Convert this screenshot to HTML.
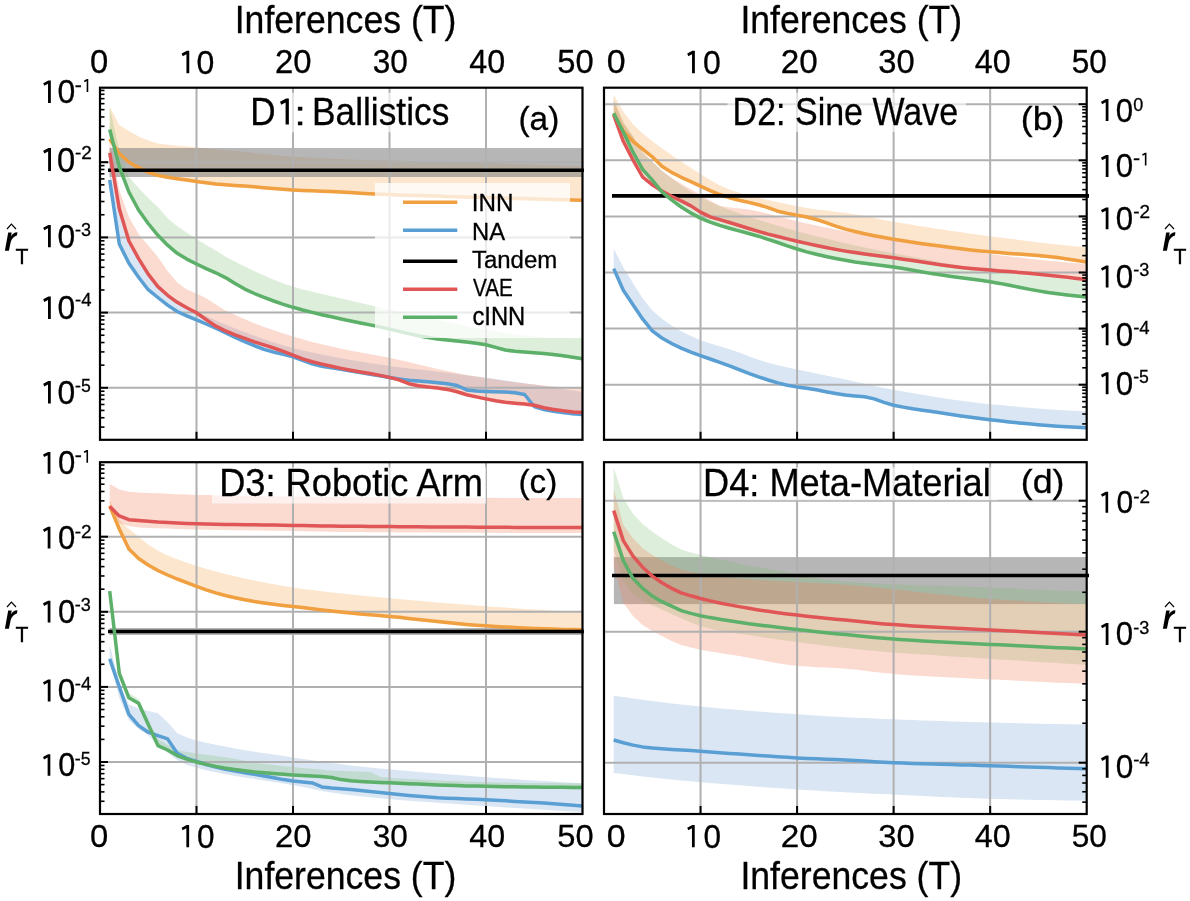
<!DOCTYPE html><html><head><meta charset="utf-8"><style>html,body{margin:0;padding:0;background:#fff;overflow:hidden}svg{display:block;will-change:transform}text{font-family:"Liberation Sans",sans-serif}</style></head><body><svg width="1190" height="901" viewBox="0 0 1190 901" font-family="'Liberation Sans', sans-serif"><rect x="0" y="0" width="1190" height="901" fill="#fff"/>
<clipPath id="clipa"><rect x="100" y="87.7" width="482.5" height="352.1"/></clipPath>
<g clip-path="url(#clipa)">
<polygon points="109.7,107.0 119.3,125.0 128.9,131.0 138.6,136.5 148.2,140.4 157.9,143.5 167.6,144.8 177.2,145.8 186.8,146.5 196.5,147.4 206.2,148.3 215.8,149.2 225.4,150.0 235.1,150.9 244.8,151.8 254.4,152.9 264.1,153.9 273.7,155.0 283.4,155.9 293.0,156.6 302.6,157.2 312.3,157.8 321.9,158.2 331.6,158.7 341.2,159.0 350.9,159.4 360.6,159.7 370.2,160.0 379.9,160.2 389.5,160.5 399.1,160.7 408.8,160.9 418.4,161.2 428.1,161.4 437.8,161.7 447.4,161.9 457.1,162.2 466.7,162.5 476.4,162.8 486.0,163.0 495.6,163.3 505.3,163.6 515.0,163.9 524.6,164.2 534.2,164.5 543.9,164.8 553.5,165.1 563.2,165.4 572.9,165.7 582.5,166.0 582.5,202.0 572.9,201.7 563.2,201.5 553.5,201.2 543.9,201.0 534.2,200.7 524.6,200.4 515.0,200.2 505.3,199.9 495.6,199.6 486.0,199.4 476.4,199.1 466.7,198.8 457.1,198.5 447.4,198.2 437.8,197.9 428.1,197.6 418.4,197.4 408.8,197.1 399.1,196.7 389.5,196.4 379.9,196.0 370.2,195.6 360.6,195.0 350.9,194.4 341.2,193.9 331.6,193.4 321.9,193.0 312.3,192.6 302.6,192.2 293.0,191.7 283.4,191.1 273.7,190.3 264.1,189.5 254.4,188.6 244.8,187.9 235.1,187.2 225.4,186.6 215.8,185.8 206.2,184.6 196.5,183.2 186.8,181.8 177.2,180.5 167.6,179.1 157.9,177.2 148.2,174.1 138.6,169.4 128.9,164.0 119.3,155.4 109.7,140.8" fill="rgb(243,155,55)" fill-opacity="0.25"/>
<polygon points="109.7,170.0 119.3,212.0 128.9,243.0 138.6,260.0 148.2,275.0 157.9,287.0 167.6,294.2 177.2,300.0 186.8,305.9 196.5,311.2 206.2,315.9 215.8,320.4 225.4,324.6 235.1,328.5 244.8,332.2 254.4,335.8 264.1,339.2 273.7,342.4 283.4,345.4 293.0,348.0 302.6,350.4 312.3,352.6 321.9,354.6 331.6,356.4 341.2,358.2 350.9,360.0 360.6,361.6 370.2,363.2 379.9,364.6 389.5,366.0 399.1,367.3 408.8,368.4 418.4,369.5 428.1,370.6 437.8,371.7 447.4,372.8 457.1,374.0 466.7,375.2 476.4,376.5 486.0,377.8 495.6,379.1 505.3,380.4 515.0,381.8 524.6,383.2 534.2,384.6 543.9,386.0 553.5,387.5 563.2,389.0 572.9,390.5 582.5,392.0 582.5,416.2 572.9,415.6 563.2,414.4 553.5,413.0 543.9,411.3 534.2,408.3 524.6,396.3 515.0,394.5 505.3,393.8 495.6,393.5 486.0,393.2 476.4,392.7 466.7,391.7 457.1,387.3 447.4,385.6 437.8,384.5 428.1,383.6 418.4,382.9 408.8,382.0 399.1,380.8 389.5,379.2 379.9,377.6 370.2,376.0 360.6,374.4 350.9,372.8 341.2,371.1 331.6,369.6 321.9,368.0 312.3,365.7 302.6,362.1 293.0,358.6 283.4,356.1 273.7,353.9 264.1,351.2 254.4,347.5 244.8,343.4 235.1,339.1 225.4,334.5 215.8,330.0 206.2,325.8 196.5,321.6 186.8,317.7 177.2,313.3 167.6,306.9 157.9,299.3 148.2,291.5 138.6,279.1 128.9,265.1 119.3,245.8 109.7,181.8" fill="rgb(107,155,207)" fill-opacity="0.25"/>
<rect x="109.5" y="148" width="473.0" height="29" fill="rgb(131,131,131)" fill-opacity="0.59"/>
<polygon points="109.7,107.0 119.3,150.0 128.9,177.0 138.6,188.0 148.2,198.0 157.9,207.0 167.6,218.2 177.2,226.3 186.8,232.8 196.5,238.9 206.2,244.9 215.8,250.6 225.4,256.4 235.1,261.7 244.8,266.6 254.4,271.2 264.1,275.6 273.7,279.7 283.4,283.4 293.0,286.6 302.6,289.4 312.3,291.8 321.9,294.0 331.6,296.2 341.2,298.4 350.9,300.8 360.6,303.1 370.2,305.3 379.9,307.3 389.5,309.3 399.1,311.4 408.8,313.5 418.4,315.6 428.1,317.7 437.8,319.9 447.4,322.0 457.1,324.0 466.7,326.0 476.4,327.9 486.0,329.7 495.6,331.3 505.3,332.9 515.0,334.2 524.6,335.4 534.2,336.4 543.9,337.2 553.5,337.8 563.2,338.1 572.9,338.2 582.5,337.8 582.5,360.6 572.9,359.0 563.2,357.6 553.5,356.4 543.9,355.3 534.2,354.5 524.6,353.9 515.0,353.1 505.3,351.8 495.6,349.2 486.0,346.6 476.4,345.0 466.7,343.9 457.1,342.9 447.4,341.9 437.8,340.7 428.1,339.3 418.4,337.5 408.8,335.4 399.1,333.2 389.5,330.9 379.9,328.7 370.2,326.7 360.6,324.8 350.9,322.8 341.2,320.8 331.6,318.6 321.9,316.5 312.3,314.2 302.6,311.8 293.0,309.1 283.4,306.1 273.7,302.8 264.1,299.2 254.4,295.3 244.8,290.9 235.1,285.4 225.4,279.4 215.8,274.6 206.2,270.4 196.5,265.8 186.8,260.9 177.2,255.1 167.6,247.0 157.9,237.1 148.2,225.3 138.6,211.8 128.9,193.8 119.3,168.6 109.7,131.3" fill="rgb(119,187,107)" fill-opacity="0.25"/>
<polygon points="109.7,140.0 119.3,190.0 128.9,217.0 138.6,234.0 148.2,245.5 157.9,257.0 167.6,271.1 177.2,282.4 186.8,289.4 196.5,293.6 206.2,298.2 215.8,304.6 225.4,310.4 235.1,315.1 244.8,319.3 254.4,323.3 264.1,326.9 273.7,330.3 283.4,333.5 293.0,336.5 302.6,339.3 312.3,341.9 321.9,344.3 331.6,346.6 341.2,348.8 350.9,350.7 360.6,352.5 370.2,354.2 379.9,356.0 389.5,357.8 399.1,359.9 408.8,362.1 418.4,364.4 428.1,366.7 437.8,368.9 447.4,371.1 457.1,373.1 466.7,374.9 476.4,376.5 486.0,378.1 495.6,379.6 505.3,381.0 515.0,382.3 524.6,383.4 534.2,384.5 543.9,385.5 553.5,386.4 563.2,387.3 572.9,388.0 582.5,388.7 582.5,414.2 572.9,413.7 563.2,412.6 553.5,411.2 543.9,409.6 534.2,407.1 524.6,405.9 515.0,405.0 505.3,404.0 495.6,402.5 486.0,400.7 476.4,398.7 466.7,396.5 457.1,393.6 447.4,391.2 437.8,389.8 428.1,388.8 418.4,387.6 408.8,385.5 399.1,381.7 389.5,379.2 379.9,377.2 370.2,375.4 360.6,373.8 350.9,372.1 341.2,370.2 331.6,368.1 321.9,365.9 312.3,363.5 302.6,360.7 293.0,357.0 283.4,353.2 273.7,349.8 264.1,346.7 254.4,343.6 244.8,340.2 235.1,336.6 225.4,332.6 215.8,328.0 206.2,321.4 196.5,314.5 186.8,309.6 177.2,304.1 167.6,297.1 157.9,288.4 148.2,276.0 138.6,260.4 128.9,242.8 119.3,210.6 109.7,154.7" fill="rgb(242,132,98)" fill-opacity="0.3"/>
</g>
<line x1="196.50" y1="87.7" x2="196.50" y2="439.8" stroke="#b0b0b0" stroke-width="2"/>
<line x1="293.00" y1="87.7" x2="293.00" y2="439.8" stroke="#b0b0b0" stroke-width="2"/>
<line x1="389.50" y1="87.7" x2="389.50" y2="439.8" stroke="#b0b0b0" stroke-width="2"/>
<line x1="486.00" y1="87.7" x2="486.00" y2="439.8" stroke="#b0b0b0" stroke-width="2"/>
<line x1="100" y1="162.20" x2="582.5" y2="162.20" stroke="#b0b0b0" stroke-width="2"/>
<line x1="100" y1="237.40" x2="582.5" y2="237.40" stroke="#b0b0b0" stroke-width="2"/>
<line x1="100" y1="312.60" x2="582.5" y2="312.60" stroke="#b0b0b0" stroke-width="2"/>
<line x1="100" y1="387.80" x2="582.5" y2="387.80" stroke="#b0b0b0" stroke-width="2"/>
<rect x="248" y="92.7" width="207" height="39.60000000000001" fill="#fff" fill-opacity="0.62"/>
<g clip-path="url(#clipa)">
<polyline points="109.7,139.0 119.3,153.6 128.9,162.2 138.6,167.6 148.2,172.3 157.9,175.4 167.6,177.3 177.2,178.7 186.8,180.0 196.5,181.4 206.2,182.8 215.8,184.0 225.4,184.8 235.1,185.4 244.8,186.1 254.4,186.8 264.1,187.7 273.7,188.5 283.4,189.3 293.0,189.9 302.6,190.4 312.3,190.8 321.9,191.2 331.6,191.6 341.2,192.1 350.9,192.6 360.6,193.2 370.2,193.8 379.9,194.2 389.5,194.6 399.1,194.9 408.8,195.3 418.4,195.6 428.1,195.8 437.8,196.1 447.4,196.4 457.1,196.7 466.7,197.0 476.4,197.3 486.0,197.6 495.6,197.8 505.3,198.1 515.0,198.4 524.6,198.6 534.2,198.9 543.9,199.2 553.5,199.4 563.2,199.7 572.9,199.9 582.5,200.2" fill="none" stroke="#f0a040" stroke-width="3.5" stroke-linejoin="round" stroke-linecap="butt"/>
<polyline points="109.7,180.0 119.3,244.0 128.9,263.3 138.6,277.3 148.2,289.7 157.9,297.5 167.6,305.1 177.2,311.5 186.8,315.9 196.5,319.8 206.2,324.0 215.8,328.2 225.4,332.7 235.1,337.3 244.8,341.6 254.4,345.7 264.1,349.4 273.7,352.1 283.4,354.3 293.0,356.8 302.6,360.3 312.3,363.9 321.9,366.2 331.6,367.8 341.2,369.3 350.9,371.0 360.6,372.6 370.2,374.2 379.9,375.8 389.5,377.4 399.1,379.0 408.8,380.2 418.4,381.1 428.1,381.8 437.8,382.7 447.4,383.8 457.1,385.5 466.7,389.9 476.4,390.9 486.0,391.4 495.6,391.7 505.3,392.0 515.0,392.7 524.6,394.5 534.2,406.5 543.9,409.5 553.5,411.2 563.2,412.6 572.9,413.8 582.5,414.4" fill="none" stroke="#5a9fd4" stroke-width="3.5" stroke-linejoin="round" stroke-linecap="butt"/>
</g>
<line x1="108" y1="170.3" x2="584" y2="170.3" stroke="#000" stroke-width="3.6"/>
<g clip-path="url(#clipa)">
<polyline points="109.7,152.9 119.3,208.8 128.9,241.0 138.6,258.6 148.2,274.2 157.9,286.6 167.6,295.3 177.2,302.3 186.8,307.8 196.5,312.7 206.2,319.6 215.8,326.2 225.4,330.8 235.1,334.8 244.8,338.4 254.4,341.8 264.1,344.9 273.7,348.0 283.4,351.4 293.0,355.2 302.6,358.9 312.3,361.7 321.9,364.1 331.6,366.3 341.2,368.4 350.9,370.3 360.6,372.0 370.2,373.6 379.9,375.4 389.5,377.4 399.1,379.9 408.8,383.7 418.4,385.8 428.1,387.0 437.8,388.0 447.4,389.4 457.1,391.8 466.7,394.7 476.4,396.9 486.0,398.9 495.6,400.7 505.3,402.2 515.0,403.2 524.6,404.1 534.2,405.3 543.9,407.8 553.5,409.4 563.2,410.8 572.9,411.9 582.5,412.4" fill="none" stroke="#e05555" stroke-width="3.5" stroke-linejoin="round" stroke-linecap="butt"/>
<polyline points="109.7,129.5 119.3,166.8 128.9,192.0 138.6,210.0 148.2,223.5 157.9,235.3 167.6,245.2 177.2,253.3 186.8,259.1 196.5,264.0 206.2,268.6 215.8,272.8 225.4,277.6 235.1,283.6 244.8,289.1 254.4,293.5 264.1,297.4 273.7,301.0 283.4,304.3 293.0,307.3 302.6,310.0 312.3,312.4 321.9,314.7 331.6,316.8 341.2,319.0 350.9,321.0 360.6,323.0 370.2,324.9 379.9,326.9 389.5,329.1 399.1,331.4 408.8,333.6 418.4,335.7 428.1,337.5 437.8,338.9 447.4,340.1 457.1,341.1 466.7,342.1 476.4,343.2 486.0,344.8 495.6,347.4 505.3,350.0 515.0,351.3 524.6,352.1 534.2,352.7 543.9,353.5 553.5,354.6 563.2,355.8 572.9,357.2 582.5,358.8" fill="none" stroke="#5db06a" stroke-width="3.5" stroke-linejoin="round" stroke-linecap="butt"/>
</g>
<line x1="196.50" y1="439.80" x2="196.50" y2="431.80" stroke="#000" stroke-width="2"/>
<line x1="293.00" y1="439.80" x2="293.00" y2="431.80" stroke="#000" stroke-width="2"/>
<line x1="389.50" y1="439.80" x2="389.50" y2="431.80" stroke="#000" stroke-width="2"/>
<line x1="486.00" y1="439.80" x2="486.00" y2="431.80" stroke="#000" stroke-width="2"/>
<line x1="100.00" y1="139.56" x2="104.50" y2="139.56" stroke="#000" stroke-width="1.6"/>
<line x1="100.00" y1="126.32" x2="104.50" y2="126.32" stroke="#000" stroke-width="1.6"/>
<line x1="100.00" y1="116.93" x2="104.50" y2="116.93" stroke="#000" stroke-width="1.6"/>
<line x1="100.00" y1="109.64" x2="104.50" y2="109.64" stroke="#000" stroke-width="1.6"/>
<line x1="100.00" y1="103.68" x2="104.50" y2="103.68" stroke="#000" stroke-width="1.6"/>
<line x1="100.00" y1="98.65" x2="104.50" y2="98.65" stroke="#000" stroke-width="1.6"/>
<line x1="100.00" y1="94.29" x2="104.50" y2="94.29" stroke="#000" stroke-width="1.6"/>
<line x1="100.00" y1="90.44" x2="104.50" y2="90.44" stroke="#000" stroke-width="1.6"/>
<line x1="100.00" y1="162.20" x2="108.00" y2="162.20" stroke="#000" stroke-width="2"/>
<line x1="100.00" y1="214.76" x2="104.50" y2="214.76" stroke="#000" stroke-width="1.6"/>
<line x1="100.00" y1="201.52" x2="104.50" y2="201.52" stroke="#000" stroke-width="1.6"/>
<line x1="100.00" y1="192.13" x2="104.50" y2="192.13" stroke="#000" stroke-width="1.6"/>
<line x1="100.00" y1="184.84" x2="104.50" y2="184.84" stroke="#000" stroke-width="1.6"/>
<line x1="100.00" y1="178.88" x2="104.50" y2="178.88" stroke="#000" stroke-width="1.6"/>
<line x1="100.00" y1="173.85" x2="104.50" y2="173.85" stroke="#000" stroke-width="1.6"/>
<line x1="100.00" y1="169.49" x2="104.50" y2="169.49" stroke="#000" stroke-width="1.6"/>
<line x1="100.00" y1="165.64" x2="104.50" y2="165.64" stroke="#000" stroke-width="1.6"/>
<line x1="100.00" y1="237.40" x2="108.00" y2="237.40" stroke="#000" stroke-width="2"/>
<line x1="100.00" y1="289.96" x2="104.50" y2="289.96" stroke="#000" stroke-width="1.6"/>
<line x1="100.00" y1="276.72" x2="104.50" y2="276.72" stroke="#000" stroke-width="1.6"/>
<line x1="100.00" y1="267.33" x2="104.50" y2="267.33" stroke="#000" stroke-width="1.6"/>
<line x1="100.00" y1="260.04" x2="104.50" y2="260.04" stroke="#000" stroke-width="1.6"/>
<line x1="100.00" y1="254.08" x2="104.50" y2="254.08" stroke="#000" stroke-width="1.6"/>
<line x1="100.00" y1="249.05" x2="104.50" y2="249.05" stroke="#000" stroke-width="1.6"/>
<line x1="100.00" y1="244.69" x2="104.50" y2="244.69" stroke="#000" stroke-width="1.6"/>
<line x1="100.00" y1="240.84" x2="104.50" y2="240.84" stroke="#000" stroke-width="1.6"/>
<line x1="100.00" y1="312.60" x2="108.00" y2="312.60" stroke="#000" stroke-width="2"/>
<line x1="100.00" y1="365.16" x2="104.50" y2="365.16" stroke="#000" stroke-width="1.6"/>
<line x1="100.00" y1="351.92" x2="104.50" y2="351.92" stroke="#000" stroke-width="1.6"/>
<line x1="100.00" y1="342.53" x2="104.50" y2="342.53" stroke="#000" stroke-width="1.6"/>
<line x1="100.00" y1="335.24" x2="104.50" y2="335.24" stroke="#000" stroke-width="1.6"/>
<line x1="100.00" y1="329.28" x2="104.50" y2="329.28" stroke="#000" stroke-width="1.6"/>
<line x1="100.00" y1="324.25" x2="104.50" y2="324.25" stroke="#000" stroke-width="1.6"/>
<line x1="100.00" y1="319.89" x2="104.50" y2="319.89" stroke="#000" stroke-width="1.6"/>
<line x1="100.00" y1="316.04" x2="104.50" y2="316.04" stroke="#000" stroke-width="1.6"/>
<line x1="100.00" y1="387.80" x2="108.00" y2="387.80" stroke="#000" stroke-width="2"/>
<line x1="100.00" y1="427.12" x2="104.50" y2="427.12" stroke="#000" stroke-width="1.6"/>
<line x1="100.00" y1="417.73" x2="104.50" y2="417.73" stroke="#000" stroke-width="1.6"/>
<line x1="100.00" y1="410.44" x2="104.50" y2="410.44" stroke="#000" stroke-width="1.6"/>
<line x1="100.00" y1="404.48" x2="104.50" y2="404.48" stroke="#000" stroke-width="1.6"/>
<line x1="100.00" y1="399.45" x2="104.50" y2="399.45" stroke="#000" stroke-width="1.6"/>
<line x1="100.00" y1="395.09" x2="104.50" y2="395.09" stroke="#000" stroke-width="1.6"/>
<line x1="100.00" y1="391.24" x2="104.50" y2="391.24" stroke="#000" stroke-width="1.6"/>
<rect x="100" y="87.7" width="482.5" height="352.1" fill="none" stroke="#000" stroke-width="2.2"/>
<clipPath id="clipb"><rect x="604" y="87.7" width="482.70000000000005" height="352.1"/></clipPath>
<g clip-path="url(#clipb)">
<polygon points="613.7,94.7 623.3,111.8 633.0,124.2 642.6,133.5 652.3,141.3 661.9,148.3 671.6,155.0 681.2,161.6 690.9,168.0 700.5,174.0 710.2,180.0 719.8,185.5 729.5,189.6 739.2,192.8 748.8,195.5 758.5,197.8 768.1,200.1 777.8,202.2 787.4,204.3 797.1,206.2 806.7,207.9 816.4,209.4 826.0,210.6 835.7,211.8 845.4,213.1 855.0,214.6 864.7,216.3 874.3,218.1 884.0,219.9 893.6,221.7 903.3,223.3 912.9,224.9 922.6,226.4 932.2,227.9 941.9,229.4 951.5,230.9 961.2,232.3 970.9,233.7 980.5,235.0 990.2,236.3 999.8,237.6 1009.5,238.8 1019.1,240.0 1028.8,241.2 1038.4,242.4 1048.1,243.5 1057.7,244.6 1067.4,245.6 1077.0,246.6 1086.7,247.6 1086.7,263.8 1077.0,262.2 1067.4,260.7 1057.7,259.4 1048.1,258.3 1038.4,257.4 1028.8,256.6 1019.1,255.9 1009.5,255.2 999.8,254.4 990.2,253.6 980.5,252.7 970.9,251.7 961.2,250.5 951.5,249.4 941.9,248.1 932.2,246.8 922.6,245.5 912.9,244.1 903.3,242.6 893.6,241.0 884.0,239.3 874.3,237.5 864.7,235.5 855.0,233.3 845.4,230.9 835.7,227.9 826.0,224.5 816.4,221.3 806.7,218.8 797.1,216.9 787.4,215.2 777.8,213.0 768.1,209.4 758.5,206.5 748.8,204.2 739.2,202.0 729.5,199.5 719.8,196.3 710.2,192.4 700.5,188.0 690.9,183.5 681.2,179.1 671.6,174.2 661.9,168.0 652.3,158.6 642.6,150.9 633.0,143.1 623.3,133.0 613.7,115.1" fill="rgb(243,155,55)" fill-opacity="0.25"/>
<polygon points="613.7,248.8 623.3,267.3 633.0,283.3 642.6,298.2 652.3,310.4 661.9,318.7 671.6,325.5 681.2,331.3 690.9,336.1 700.5,340.2 710.2,343.5 719.8,346.2 729.5,349.2 739.2,352.6 748.8,356.3 758.5,359.8 768.1,362.8 777.8,365.3 787.4,367.5 797.1,369.5 806.7,371.5 816.4,373.6 826.0,375.6 835.7,377.6 845.4,379.6 855.0,381.7 864.7,383.8 874.3,385.9 884.0,387.9 893.6,389.7 903.3,391.5 912.9,393.2 922.6,394.8 932.2,396.4 941.9,398.0 951.5,399.4 961.2,400.8 970.9,402.0 980.5,403.2 990.2,404.2 999.8,405.1 1009.5,406.1 1019.1,406.9 1028.8,407.8 1038.4,408.5 1048.1,409.2 1057.7,409.9 1067.4,410.4 1077.0,410.9 1086.7,411.3 1086.7,429.6 1077.0,429.1 1067.4,428.6 1057.7,428.0 1048.1,427.3 1038.4,426.5 1028.8,425.6 1019.1,424.7 1009.5,423.7 999.8,422.6 990.2,421.5 980.5,420.4 970.9,419.1 961.2,417.7 951.5,416.3 941.9,414.8 932.2,413.4 922.6,412.0 912.9,410.6 903.3,408.9 893.6,407.0 884.0,404.2 874.3,400.7 864.7,398.6 855.0,397.8 845.4,396.9 835.7,395.3 826.0,393.5 816.4,391.6 806.7,390.0 797.1,388.7 787.4,387.0 777.8,384.7 768.1,381.8 758.5,378.6 748.8,375.2 739.2,371.5 729.5,367.6 719.8,364.1 710.2,360.8 700.5,357.4 690.9,353.9 681.2,349.9 671.6,345.3 661.9,339.8 652.3,332.7 642.6,320.7 633.0,306.5 623.3,292.0 613.7,270.4" fill="rgb(107,155,207)" fill-opacity="0.25"/>
<polygon points="613.7,100.0 623.3,122.6 633.0,136.6 642.6,152.2 652.3,161.5 661.9,170.8 671.6,178.4 681.2,185.4 690.9,191.7 700.5,197.3 710.2,202.0 719.8,206.2 729.5,210.1 739.2,213.5 748.8,216.8 758.5,219.8 768.1,222.8 777.8,225.7 787.4,228.5 797.1,231.2 806.7,233.7 816.4,236.2 826.0,238.6 835.7,240.9 845.4,243.2 855.0,245.4 864.7,247.4 874.3,249.5 884.0,251.4 893.6,253.3 903.3,255.1 912.9,257.0 922.6,258.8 932.2,260.6 941.9,262.4 951.5,264.1 961.2,265.7 970.9,267.3 980.5,268.8 990.2,270.1 999.8,271.4 1009.5,272.7 1019.1,273.9 1028.8,275.1 1038.4,276.3 1048.1,277.3 1057.7,278.3 1067.4,279.3 1077.0,280.2 1086.7,281.0 1086.7,298.9 1077.0,297.9 1067.4,296.8 1057.7,295.6 1048.1,294.3 1038.4,292.7 1028.8,290.9 1019.1,289.0 1009.5,287.1 999.8,285.2 990.2,283.6 980.5,282.1 970.9,280.8 961.2,279.5 951.5,278.2 941.9,276.8 932.2,275.4 922.6,273.7 912.9,272.1 903.3,270.4 893.6,268.9 884.0,267.5 874.3,266.3 864.7,265.0 855.0,263.7 845.4,262.1 835.7,260.3 826.0,258.3 816.4,256.1 806.7,253.7 797.1,250.8 787.4,247.7 777.8,244.3 768.1,241.1 758.5,238.0 748.8,235.3 739.2,232.7 729.5,230.0 719.8,227.2 710.2,224.0 700.5,219.9 690.9,214.9 681.2,208.8 671.6,201.7 661.9,193.6 652.3,182.0 642.6,171.1 633.0,154.0 623.3,133.8 613.7,115.1" fill="rgb(119,187,107)" fill-opacity="0.25"/>
<polygon points="613.7,100.0 623.3,122.6 633.0,136.6 642.6,152.2 652.3,161.5 661.9,170.8 671.6,177.8 681.2,183.8 690.9,189.3 700.5,194.8 710.2,200.8 719.8,205.7 729.5,207.6 739.2,208.5 748.8,209.6 758.5,211.4 768.1,213.7 777.8,216.2 787.4,218.8 797.1,221.2 806.7,223.4 816.4,225.5 826.0,227.6 835.7,229.6 845.4,231.5 855.0,233.1 864.7,234.8 874.3,236.4 884.0,238.0 893.6,239.6 903.3,241.2 912.9,242.7 922.6,244.2 932.2,245.7 941.9,247.2 951.5,248.6 961.2,250.0 970.9,251.4 980.5,252.7 990.2,254.0 999.8,255.2 1009.5,256.4 1019.1,257.6 1028.8,258.7 1038.4,259.7 1048.1,260.7 1057.7,261.6 1067.4,262.5 1077.0,263.3 1086.7,264.0 1086.7,281.4 1077.0,280.2 1067.4,279.1 1057.7,278.0 1048.1,277.0 1038.4,276.0 1028.8,275.1 1019.1,274.2 1009.5,273.4 999.8,272.7 990.2,271.9 980.5,271.1 970.9,270.2 961.2,269.2 951.5,268.0 941.9,266.7 932.2,265.3 922.6,263.8 912.9,262.4 903.3,261.0 893.6,259.6 884.0,258.3 874.3,257.1 864.7,255.8 855.0,254.4 845.4,252.9 835.7,251.2 826.0,249.3 816.4,247.3 806.7,245.2 797.1,243.0 787.4,240.7 777.8,238.3 768.1,235.9 758.5,233.2 748.8,230.3 739.2,227.3 729.5,224.3 719.8,221.4 710.2,218.7 700.5,213.9 690.9,207.7 681.2,202.7 671.6,198.0 661.9,192.8 652.3,186.6 642.6,178.8 633.0,161.8 623.3,143.1 613.7,116.7" fill="rgb(242,132,98)" fill-opacity="0.3"/>
</g>
<line x1="700.54" y1="87.7" x2="700.54" y2="439.8" stroke="#b0b0b0" stroke-width="2"/>
<line x1="797.08" y1="87.7" x2="797.08" y2="439.8" stroke="#b0b0b0" stroke-width="2"/>
<line x1="893.62" y1="87.7" x2="893.62" y2="439.8" stroke="#b0b0b0" stroke-width="2"/>
<line x1="990.16" y1="87.7" x2="990.16" y2="439.8" stroke="#b0b0b0" stroke-width="2"/>
<line x1="604" y1="104.20" x2="1086.7" y2="104.20" stroke="#b0b0b0" stroke-width="2"/>
<line x1="604" y1="160.30" x2="1086.7" y2="160.30" stroke="#b0b0b0" stroke-width="2"/>
<line x1="604" y1="216.40" x2="1086.7" y2="216.40" stroke="#b0b0b0" stroke-width="2"/>
<line x1="604" y1="272.50" x2="1086.7" y2="272.50" stroke="#b0b0b0" stroke-width="2"/>
<line x1="604" y1="328.60" x2="1086.7" y2="328.60" stroke="#b0b0b0" stroke-width="2"/>
<line x1="604" y1="384.70" x2="1086.7" y2="384.70" stroke="#b0b0b0" stroke-width="2"/>
<rect x="727.5" y="92.7" width="238.5" height="39.3" fill="#fff" fill-opacity="0.62"/>
<g clip-path="url(#clipb)">
<polyline points="613.7,113.3 623.3,131.2 633.0,141.3 642.6,149.1 652.3,156.8 661.9,166.2 671.6,172.4 681.2,177.3 690.9,181.7 700.5,186.2 710.2,190.6 719.8,194.5 729.5,197.7 739.2,200.2 748.8,202.4 758.5,204.7 768.1,207.6 777.8,211.2 787.4,213.4 797.1,215.1 806.7,217.0 816.4,219.5 826.0,222.7 835.7,226.1 845.4,229.1 855.0,231.5 864.7,233.7 874.3,235.7 884.0,237.5 893.6,239.2 903.3,240.8 912.9,242.3 922.6,243.7 932.2,245.0 941.9,246.3 951.5,247.6 961.2,248.7 970.9,249.9 980.5,250.9 990.2,251.8 999.8,252.6 1009.5,253.4 1019.1,254.1 1028.8,254.8 1038.4,255.6 1048.1,256.5 1057.7,257.6 1067.4,258.9 1077.0,260.4 1086.7,262.0" fill="none" stroke="#f0a040" stroke-width="3.5" stroke-linejoin="round" stroke-linecap="butt"/>
<polyline points="613.7,268.6 623.3,290.2 633.0,304.7 642.6,318.9 652.3,330.9 661.9,338.0 671.6,343.5 681.2,348.1 690.9,352.1 700.5,355.6 710.2,359.0 719.8,362.3 729.5,365.8 739.2,369.7 748.8,373.4 758.5,376.8 768.1,380.0 777.8,382.9 787.4,385.2 797.1,386.9 806.7,388.2 816.4,389.8 826.0,391.7 835.7,393.5 845.4,395.1 855.0,396.0 864.7,396.8 874.3,398.9 884.0,402.4 893.6,405.2 903.3,407.1 912.9,408.8 922.6,410.2 932.2,411.6 941.9,413.0 951.5,414.5 961.2,415.9 970.9,417.3 980.5,418.6 990.2,419.7 999.8,420.8 1009.5,421.9 1019.1,422.9 1028.8,423.8 1038.4,424.7 1048.1,425.5 1057.7,426.2 1067.4,426.8 1077.0,427.3 1086.7,427.8" fill="none" stroke="#5a9fd4" stroke-width="3.5" stroke-linejoin="round" stroke-linecap="butt"/>
</g>
<line x1="612" y1="195.9" x2="1089" y2="195.9" stroke="#000" stroke-width="3.6"/>
<g clip-path="url(#clipb)">
<polyline points="613.7,114.9 623.3,141.3 633.0,160.0 642.6,177.0 652.3,184.8 661.9,191.0 671.6,196.2 681.2,200.9 690.9,205.9 700.5,212.1 710.2,216.9 719.8,219.6 729.5,222.5 739.2,225.5 748.8,228.5 758.5,231.4 768.1,234.1 777.8,236.5 787.4,238.9 797.1,241.2 806.7,243.4 816.4,245.5 826.0,247.5 835.7,249.4 845.4,251.1 855.0,252.6 864.7,254.0 874.3,255.3 884.0,256.5 893.6,257.8 903.3,259.2 912.9,260.6 922.6,262.0 932.2,263.5 941.9,264.9 951.5,266.2 961.2,267.4 970.9,268.4 980.5,269.3 990.2,270.1 999.8,270.9 1009.5,271.6 1019.1,272.4 1028.8,273.3 1038.4,274.2 1048.1,275.2 1057.7,276.2 1067.4,277.3 1077.0,278.4 1086.7,279.6" fill="none" stroke="#e05555" stroke-width="3.5" stroke-linejoin="round" stroke-linecap="butt"/>
<polyline points="613.7,113.3 623.3,132.0 633.0,152.2 642.6,169.3 652.3,180.2 661.9,191.8 671.6,199.9 681.2,207.0 690.9,213.1 700.5,218.1 710.2,222.2 719.8,225.4 729.5,228.2 739.2,230.9 748.8,233.5 758.5,236.2 768.1,239.3 777.8,242.5 787.4,245.9 797.1,249.0 806.7,251.9 816.4,254.3 826.0,256.5 835.7,258.5 845.4,260.3 855.0,261.9 864.7,263.2 874.3,264.5 884.0,265.7 893.6,267.1 903.3,268.6 912.9,270.3 922.6,271.9 932.2,273.6 941.9,275.0 951.5,276.4 961.2,277.7 970.9,279.0 980.5,280.3 990.2,281.8 999.8,283.4 1009.5,285.3 1019.1,287.2 1028.8,289.1 1038.4,290.9 1048.1,292.5 1057.7,293.8 1067.4,295.0 1077.0,296.1 1086.7,297.1" fill="none" stroke="#5db06a" stroke-width="3.5" stroke-linejoin="round" stroke-linecap="butt"/>
</g>
<line x1="700.54" y1="439.80" x2="700.54" y2="431.80" stroke="#000" stroke-width="2"/>
<line x1="797.08" y1="439.80" x2="797.08" y2="431.80" stroke="#000" stroke-width="2"/>
<line x1="893.62" y1="439.80" x2="893.62" y2="431.80" stroke="#000" stroke-width="2"/>
<line x1="990.16" y1="439.80" x2="990.16" y2="431.80" stroke="#000" stroke-width="2"/>
<line x1="1086.70" y1="104.20" x2="1078.70" y2="104.20" stroke="#000" stroke-width="2"/>
<line x1="1086.70" y1="143.41" x2="1082.20" y2="143.41" stroke="#000" stroke-width="1.6"/>
<line x1="1086.70" y1="133.53" x2="1082.20" y2="133.53" stroke="#000" stroke-width="1.6"/>
<line x1="1086.70" y1="126.52" x2="1082.20" y2="126.52" stroke="#000" stroke-width="1.6"/>
<line x1="1086.70" y1="121.09" x2="1082.20" y2="121.09" stroke="#000" stroke-width="1.6"/>
<line x1="1086.70" y1="116.65" x2="1082.20" y2="116.65" stroke="#000" stroke-width="1.6"/>
<line x1="1086.70" y1="112.89" x2="1082.20" y2="112.89" stroke="#000" stroke-width="1.6"/>
<line x1="1086.70" y1="109.64" x2="1082.20" y2="109.64" stroke="#000" stroke-width="1.6"/>
<line x1="1086.70" y1="106.77" x2="1082.20" y2="106.77" stroke="#000" stroke-width="1.6"/>
<line x1="1086.70" y1="160.30" x2="1078.70" y2="160.30" stroke="#000" stroke-width="2"/>
<line x1="1086.70" y1="199.51" x2="1082.20" y2="199.51" stroke="#000" stroke-width="1.6"/>
<line x1="1086.70" y1="189.63" x2="1082.20" y2="189.63" stroke="#000" stroke-width="1.6"/>
<line x1="1086.70" y1="182.62" x2="1082.20" y2="182.62" stroke="#000" stroke-width="1.6"/>
<line x1="1086.70" y1="177.19" x2="1082.20" y2="177.19" stroke="#000" stroke-width="1.6"/>
<line x1="1086.70" y1="172.75" x2="1082.20" y2="172.75" stroke="#000" stroke-width="1.6"/>
<line x1="1086.70" y1="168.99" x2="1082.20" y2="168.99" stroke="#000" stroke-width="1.6"/>
<line x1="1086.70" y1="165.74" x2="1082.20" y2="165.74" stroke="#000" stroke-width="1.6"/>
<line x1="1086.70" y1="162.87" x2="1082.20" y2="162.87" stroke="#000" stroke-width="1.6"/>
<line x1="1086.70" y1="216.40" x2="1078.70" y2="216.40" stroke="#000" stroke-width="2"/>
<line x1="1086.70" y1="255.61" x2="1082.20" y2="255.61" stroke="#000" stroke-width="1.6"/>
<line x1="1086.70" y1="245.73" x2="1082.20" y2="245.73" stroke="#000" stroke-width="1.6"/>
<line x1="1086.70" y1="238.72" x2="1082.20" y2="238.72" stroke="#000" stroke-width="1.6"/>
<line x1="1086.70" y1="233.29" x2="1082.20" y2="233.29" stroke="#000" stroke-width="1.6"/>
<line x1="1086.70" y1="228.85" x2="1082.20" y2="228.85" stroke="#000" stroke-width="1.6"/>
<line x1="1086.70" y1="225.09" x2="1082.20" y2="225.09" stroke="#000" stroke-width="1.6"/>
<line x1="1086.70" y1="221.84" x2="1082.20" y2="221.84" stroke="#000" stroke-width="1.6"/>
<line x1="1086.70" y1="218.97" x2="1082.20" y2="218.97" stroke="#000" stroke-width="1.6"/>
<line x1="1086.70" y1="272.50" x2="1078.70" y2="272.50" stroke="#000" stroke-width="2"/>
<line x1="1086.70" y1="311.71" x2="1082.20" y2="311.71" stroke="#000" stroke-width="1.6"/>
<line x1="1086.70" y1="301.83" x2="1082.20" y2="301.83" stroke="#000" stroke-width="1.6"/>
<line x1="1086.70" y1="294.82" x2="1082.20" y2="294.82" stroke="#000" stroke-width="1.6"/>
<line x1="1086.70" y1="289.39" x2="1082.20" y2="289.39" stroke="#000" stroke-width="1.6"/>
<line x1="1086.70" y1="284.95" x2="1082.20" y2="284.95" stroke="#000" stroke-width="1.6"/>
<line x1="1086.70" y1="281.19" x2="1082.20" y2="281.19" stroke="#000" stroke-width="1.6"/>
<line x1="1086.70" y1="277.94" x2="1082.20" y2="277.94" stroke="#000" stroke-width="1.6"/>
<line x1="1086.70" y1="275.07" x2="1082.20" y2="275.07" stroke="#000" stroke-width="1.6"/>
<line x1="1086.70" y1="328.60" x2="1078.70" y2="328.60" stroke="#000" stroke-width="2"/>
<line x1="1086.70" y1="367.81" x2="1082.20" y2="367.81" stroke="#000" stroke-width="1.6"/>
<line x1="1086.70" y1="357.93" x2="1082.20" y2="357.93" stroke="#000" stroke-width="1.6"/>
<line x1="1086.70" y1="350.92" x2="1082.20" y2="350.92" stroke="#000" stroke-width="1.6"/>
<line x1="1086.70" y1="345.49" x2="1082.20" y2="345.49" stroke="#000" stroke-width="1.6"/>
<line x1="1086.70" y1="341.05" x2="1082.20" y2="341.05" stroke="#000" stroke-width="1.6"/>
<line x1="1086.70" y1="337.29" x2="1082.20" y2="337.29" stroke="#000" stroke-width="1.6"/>
<line x1="1086.70" y1="334.04" x2="1082.20" y2="334.04" stroke="#000" stroke-width="1.6"/>
<line x1="1086.70" y1="331.17" x2="1082.20" y2="331.17" stroke="#000" stroke-width="1.6"/>
<line x1="1086.70" y1="384.70" x2="1078.70" y2="384.70" stroke="#000" stroke-width="2"/>
<line x1="1086.70" y1="423.91" x2="1082.20" y2="423.91" stroke="#000" stroke-width="1.6"/>
<line x1="1086.70" y1="414.03" x2="1082.20" y2="414.03" stroke="#000" stroke-width="1.6"/>
<line x1="1086.70" y1="407.02" x2="1082.20" y2="407.02" stroke="#000" stroke-width="1.6"/>
<line x1="1086.70" y1="401.59" x2="1082.20" y2="401.59" stroke="#000" stroke-width="1.6"/>
<line x1="1086.70" y1="397.15" x2="1082.20" y2="397.15" stroke="#000" stroke-width="1.6"/>
<line x1="1086.70" y1="393.39" x2="1082.20" y2="393.39" stroke="#000" stroke-width="1.6"/>
<line x1="1086.70" y1="390.14" x2="1082.20" y2="390.14" stroke="#000" stroke-width="1.6"/>
<line x1="1086.70" y1="387.27" x2="1082.20" y2="387.27" stroke="#000" stroke-width="1.6"/>
<rect x="604" y="87.7" width="482.70000000000005" height="352.1" fill="none" stroke="#000" stroke-width="2.2"/>
<clipPath id="clipc"><rect x="100" y="462.2" width="482.5" height="351.8"/></clipPath>
<g clip-path="url(#clipc)">
<polygon points="109.7,500.0 119.3,520.0 128.9,529.0 138.6,536.8 148.2,544.6 157.9,550.8 167.6,555.4 177.2,559.3 186.8,562.8 196.5,565.9 206.2,568.8 215.8,571.5 225.4,574.0 235.1,576.3 244.8,578.4 254.4,580.5 264.1,582.5 273.7,584.3 283.4,586.0 293.0,587.5 302.6,588.9 312.3,590.1 321.9,591.3 331.6,592.4 341.2,593.4 350.9,594.4 360.6,595.4 370.2,596.4 379.9,597.3 389.5,598.2 399.1,599.1 408.8,600.0 418.4,600.8 428.1,601.7 437.8,602.5 447.4,603.3 457.1,604.0 466.7,604.8 476.4,605.5 486.0,606.2 495.6,606.9 505.3,607.6 515.0,608.3 524.6,608.9 534.2,609.5 543.9,610.1 553.5,610.7 563.2,611.2 572.9,611.8 582.5,612.3 582.5,631.6 572.9,631.4 563.2,631.2 553.5,630.9 543.9,630.6 534.2,630.2 524.6,629.7 515.0,629.2 505.3,628.7 495.6,628.2 486.0,627.6 476.4,627.0 466.7,626.2 457.1,625.4 447.4,624.4 437.8,623.4 428.1,622.3 418.4,621.2 408.8,620.2 399.1,619.1 389.5,618.2 379.9,617.4 370.2,616.5 360.6,615.7 350.9,614.9 341.2,613.9 331.6,612.9 321.9,611.7 312.3,610.6 302.6,609.4 293.0,608.3 283.4,607.2 273.7,606.1 264.1,604.8 254.4,603.3 244.8,601.5 235.1,599.5 225.4,597.3 215.8,594.7 206.2,591.6 196.5,588.1 186.8,584.5 177.2,580.8 167.6,576.8 157.9,572.3 148.2,566.8 138.6,560.3 128.9,550.8 119.3,530.8 109.7,507.6" fill="rgb(243,155,55)" fill-opacity="0.25"/>
<polygon points="109.7,644.4 119.3,683.8 128.9,704.4 138.6,708.5 148.2,711.0 157.9,713.3 167.6,722.2 177.2,733.3 186.8,737.5 196.5,740.6 206.2,742.8 215.8,744.7 225.4,746.6 235.1,748.5 244.8,750.2 254.4,751.7 264.1,753.2 273.7,754.6 283.4,756.0 293.0,757.4 302.6,758.9 312.3,760.3 321.9,761.7 331.6,763.0 341.2,764.3 350.9,765.4 360.6,766.4 370.2,767.4 379.9,768.4 389.5,769.3 399.1,770.2 408.8,771.1 418.4,771.9 428.1,772.8 437.8,773.6 447.4,774.3 457.1,775.1 466.7,775.8 476.4,776.5 486.0,777.2 495.6,777.9 505.3,778.6 515.0,779.2 524.6,779.9 534.2,780.5 543.9,781.1 553.5,781.6 563.2,782.2 572.9,782.7 582.5,783.2 582.5,812.1 572.9,811.6 563.2,811.0 553.5,810.4 543.9,809.8 534.2,809.2 524.6,808.6 515.0,808.0 505.3,807.4 495.6,806.7 486.0,806.0 476.4,805.4 466.7,804.7 457.1,804.1 447.4,803.4 437.8,802.7 428.1,802.1 418.4,801.4 408.8,800.7 399.1,799.9 389.5,799.1 379.9,798.2 370.2,797.3 360.6,796.3 350.9,795.3 341.2,794.1 331.6,792.6 321.9,790.9 312.3,789.0 302.6,787.1 293.0,785.2 283.4,783.5 273.7,782.0 264.1,780.5 254.4,779.0 244.8,777.5 235.1,776.0 225.4,774.3 215.8,772.3 206.2,770.2 196.5,767.7 186.8,764.8 177.2,760.0 167.6,752.8 157.9,744.2 148.2,735.6 138.6,728.9 128.9,720.0 119.3,697.8 109.7,662.0" fill="rgb(107,155,207)" fill-opacity="0.25"/>
<rect x="109.5" y="628" width="473.0" height="7" fill="rgb(131,131,131)" fill-opacity="0.59"/>
<polygon points="109.7,588.0 119.3,668.0 128.9,693.0 138.6,699.0 148.2,719.0 157.9,739.0 167.6,745.0 177.2,750.0 186.8,752.1 196.5,753.6 206.2,754.8 215.8,755.9 225.4,757.3 235.1,759.0 244.8,760.8 254.4,762.5 264.1,763.9 273.7,765.1 283.4,766.0 293.0,767.0 302.6,767.9 312.3,768.8 321.9,769.7 331.6,770.4 341.2,771.0 350.9,771.2 360.6,771.4 370.2,771.9 379.9,776.8 389.5,777.7 399.1,778.4 408.8,779.0 418.4,779.6 428.1,780.1 437.8,780.6 447.4,781.0 457.1,781.3 466.7,781.7 476.4,782.0 486.0,782.2 495.6,782.4 505.3,782.6 515.0,782.8 524.6,782.9 534.2,783.0 543.9,783.1 553.5,783.1 563.2,783.2 572.9,783.2 582.5,783.2 582.5,789.2 572.9,789.2 563.2,789.1 553.5,789.1 543.9,789.0 534.2,788.9 524.6,788.7 515.0,788.6 505.3,788.5 495.6,788.3 486.0,788.1 476.4,787.9 466.7,787.7 457.1,787.4 447.4,787.1 437.8,786.7 428.1,786.3 418.4,785.9 408.8,785.5 399.1,785.1 389.5,784.6 379.9,784.2 370.2,783.7 360.6,783.2 350.9,782.5 341.2,781.4 331.6,779.3 321.9,778.4 312.3,777.8 302.6,777.3 293.0,776.8 283.4,776.1 273.7,775.4 264.1,774.6 254.4,773.7 244.8,772.6 235.1,771.4 225.4,769.9 215.8,768.2 206.2,766.2 196.5,763.8 186.8,760.9 177.2,757.4 167.6,751.8 157.9,747.4 148.2,726.2 138.6,705.1 128.9,699.6 119.3,675.1 109.7,592.9" fill="rgb(119,187,107)" fill-opacity="0.25"/>
<polygon points="109.7,484.0 119.3,489.4 128.9,491.8 138.6,492.5 148.2,492.9 157.9,493.3 167.6,493.7 177.2,494.2 186.8,494.6 196.5,494.9 206.2,495.1 215.8,495.3 225.4,495.5 235.1,495.7 244.8,495.9 254.4,496.0 264.1,496.2 273.7,496.3 283.4,496.4 293.0,496.5 302.6,496.6 312.3,496.7 321.9,496.8 331.6,496.9 341.2,497.0 350.9,497.0 360.6,497.1 370.2,497.2 379.9,497.2 389.5,497.3 399.1,497.4 408.8,497.4 418.4,497.5 428.1,497.5 437.8,497.6 447.4,497.6 457.1,497.7 466.7,497.7 476.4,497.8 486.0,497.8 495.6,497.8 505.3,497.9 515.0,497.9 524.6,497.9 534.2,497.9 543.9,498.0 553.5,498.0 563.2,498.0 572.9,498.0 582.5,498.0 582.5,533.0 572.9,533.0 563.2,533.0 553.5,533.0 543.9,533.0 534.2,533.0 524.6,532.9 515.0,532.9 505.3,532.9 495.6,532.9 486.0,532.8 476.4,532.8 466.7,532.8 457.1,532.7 447.4,532.7 437.8,532.6 428.1,532.6 418.4,532.5 408.8,532.5 399.1,532.4 389.5,532.3 379.9,532.3 370.2,532.2 360.6,532.1 350.9,532.0 341.2,532.0 331.6,531.8 321.9,531.6 312.3,531.4 302.6,531.2 293.0,531.0 283.4,530.8 273.7,530.7 264.1,530.6 254.4,530.4 244.8,530.3 235.1,530.2 225.4,530.0 215.8,529.9 206.2,529.7 196.5,529.5 186.8,529.3 177.2,529.0 167.6,528.6 157.9,528.3 148.2,528.0 138.6,527.5 128.9,526.0 119.3,522.9 109.7,508.9" fill="rgb(242,132,98)" fill-opacity="0.3"/>
</g>
<line x1="196.50" y1="462.2" x2="196.50" y2="814.0" stroke="#b0b0b0" stroke-width="2"/>
<line x1="293.00" y1="462.2" x2="293.00" y2="814.0" stroke="#b0b0b0" stroke-width="2"/>
<line x1="389.50" y1="462.2" x2="389.50" y2="814.0" stroke="#b0b0b0" stroke-width="2"/>
<line x1="486.00" y1="462.2" x2="486.00" y2="814.0" stroke="#b0b0b0" stroke-width="2"/>
<line x1="100" y1="536.70" x2="582.5" y2="536.70" stroke="#b0b0b0" stroke-width="2"/>
<line x1="100" y1="611.80" x2="582.5" y2="611.80" stroke="#b0b0b0" stroke-width="2"/>
<line x1="100" y1="686.90" x2="582.5" y2="686.90" stroke="#b0b0b0" stroke-width="2"/>
<line x1="100" y1="762.00" x2="582.5" y2="762.00" stroke="#b0b0b0" stroke-width="2"/>
<rect x="212" y="467.3" width="274" height="36.19999999999999" fill="#fff" fill-opacity="0.62"/>
<g clip-path="url(#clipc)">
<polyline points="109.7,505.8 119.3,529.0 128.9,549.0 138.6,558.5 148.2,565.0 157.9,570.5 167.6,575.0 177.2,579.0 186.8,582.7 196.5,586.3 206.2,589.8 215.8,592.9 225.4,595.5 235.1,597.7 244.8,599.7 254.4,601.5 264.1,603.0 273.7,604.3 283.4,605.4 293.0,606.5 302.6,607.6 312.3,608.8 321.9,609.9 331.6,611.1 341.2,612.1 350.9,613.1 360.6,613.9 370.2,614.7 379.9,615.6 389.5,616.4 399.1,617.3 408.8,618.4 418.4,619.4 428.1,620.5 437.8,621.6 447.4,622.6 457.1,623.6 466.7,624.4 476.4,625.2 486.0,625.8 495.6,626.4 505.3,626.9 515.0,627.4 524.6,627.9 534.2,628.4 543.9,628.8 553.5,629.1 563.2,629.4 572.9,629.6 582.5,629.8" fill="none" stroke="#f0a040" stroke-width="3.5" stroke-linejoin="round" stroke-linecap="butt"/>
<polyline points="109.7,658.9 119.3,686.7 128.9,714.4 138.6,725.6 148.2,732.2 157.9,735.6 167.6,738.9 177.2,753.3 186.8,758.3 196.5,761.5 206.2,764.5 215.8,767.0 225.4,769.2 235.1,771.1 244.8,772.7 254.4,774.3 264.1,775.9 273.7,777.7 283.4,779.6 293.0,781.1 302.6,782.0 312.3,782.9 321.9,786.9 331.6,788.1 341.2,788.7 350.9,789.6 360.6,790.6 370.2,791.6 379.9,792.6 389.5,793.5 399.1,794.5 408.8,795.4 418.4,796.3 428.1,797.1 437.8,797.8 447.4,798.2 457.1,798.6 466.7,799.0 476.4,799.3 486.0,799.8 495.6,800.3 505.3,800.8 515.0,801.4 524.6,801.9 534.2,802.5 543.9,803.1 553.5,803.8 563.2,804.5 572.9,805.2 582.5,805.9" fill="none" stroke="#5a9fd4" stroke-width="3.5" stroke-linejoin="round" stroke-linecap="butt"/>
</g>
<line x1="108" y1="631.5" x2="584" y2="631.5" stroke="#000" stroke-width="3.6"/>
<g clip-path="url(#clipc)">
<polyline points="109.7,506.5 119.3,515.9 128.9,519.7 138.6,520.5 148.2,521.3 157.9,522.1 167.6,522.6 177.2,523.1 186.8,523.5 196.5,523.8 206.2,524.0 215.8,524.2 225.4,524.4 235.1,524.6 244.8,524.7 254.4,524.8 264.1,525.0 273.7,525.1 283.4,525.2 293.0,525.4 302.6,525.6 312.3,525.7 321.9,525.9 331.6,526.0 341.2,526.2 350.9,526.3 360.6,526.3 370.2,526.4 379.9,526.5 389.5,526.6 399.1,526.7 408.8,526.7 418.4,526.8 428.1,526.9 437.8,527.0 447.4,527.0 457.1,527.1 466.7,527.1 476.4,527.2 486.0,527.2 495.6,527.3 505.3,527.3 515.0,527.4 524.6,527.4 534.2,527.4 543.9,527.5 553.5,527.5 563.2,527.5 572.9,527.5 582.5,527.5" fill="none" stroke="#e05555" stroke-width="3.5" stroke-linejoin="round" stroke-linecap="butt"/>
<polyline points="109.7,591.1 119.3,673.3 128.9,697.8 138.6,703.3 148.2,724.4 157.9,745.6 167.6,750.0 177.2,755.6 186.8,759.1 196.5,762.0 206.2,764.4 215.8,766.4 225.4,768.1 235.1,769.6 244.8,770.8 254.4,771.9 264.1,772.8 273.7,773.6 283.4,774.3 293.0,775.0 302.6,775.5 312.3,776.0 321.9,776.6 331.6,777.5 341.2,779.6 350.9,780.7 360.6,781.4 370.2,781.9 379.9,782.4 389.5,782.8 399.1,783.3 408.8,783.7 418.4,784.1 428.1,784.5 437.8,784.9 447.4,785.3 457.1,785.6 466.7,785.9 476.4,786.1 486.0,786.3 495.6,786.5 505.3,786.7 515.0,786.8 524.6,786.9 534.2,787.1 543.9,787.2 553.5,787.3 563.2,787.3 572.9,787.4 582.5,787.4" fill="none" stroke="#5db06a" stroke-width="3.5" stroke-linejoin="round" stroke-linecap="butt"/>
</g>
<line x1="196.50" y1="814.00" x2="196.50" y2="806.00" stroke="#000" stroke-width="2"/>
<line x1="293.00" y1="814.00" x2="293.00" y2="806.00" stroke="#000" stroke-width="2"/>
<line x1="389.50" y1="814.00" x2="389.50" y2="806.00" stroke="#000" stroke-width="2"/>
<line x1="486.00" y1="814.00" x2="486.00" y2="806.00" stroke="#000" stroke-width="2"/>
<line x1="100.00" y1="514.09" x2="104.50" y2="514.09" stroke="#000" stroke-width="1.6"/>
<line x1="100.00" y1="500.87" x2="104.50" y2="500.87" stroke="#000" stroke-width="1.6"/>
<line x1="100.00" y1="491.49" x2="104.50" y2="491.49" stroke="#000" stroke-width="1.6"/>
<line x1="100.00" y1="484.21" x2="104.50" y2="484.21" stroke="#000" stroke-width="1.6"/>
<line x1="100.00" y1="478.26" x2="104.50" y2="478.26" stroke="#000" stroke-width="1.6"/>
<line x1="100.00" y1="473.23" x2="104.50" y2="473.23" stroke="#000" stroke-width="1.6"/>
<line x1="100.00" y1="468.88" x2="104.50" y2="468.88" stroke="#000" stroke-width="1.6"/>
<line x1="100.00" y1="465.04" x2="104.50" y2="465.04" stroke="#000" stroke-width="1.6"/>
<line x1="100.00" y1="536.70" x2="108.00" y2="536.70" stroke="#000" stroke-width="2"/>
<line x1="100.00" y1="589.19" x2="104.50" y2="589.19" stroke="#000" stroke-width="1.6"/>
<line x1="100.00" y1="575.97" x2="104.50" y2="575.97" stroke="#000" stroke-width="1.6"/>
<line x1="100.00" y1="566.59" x2="104.50" y2="566.59" stroke="#000" stroke-width="1.6"/>
<line x1="100.00" y1="559.31" x2="104.50" y2="559.31" stroke="#000" stroke-width="1.6"/>
<line x1="100.00" y1="553.36" x2="104.50" y2="553.36" stroke="#000" stroke-width="1.6"/>
<line x1="100.00" y1="548.33" x2="104.50" y2="548.33" stroke="#000" stroke-width="1.6"/>
<line x1="100.00" y1="543.98" x2="104.50" y2="543.98" stroke="#000" stroke-width="1.6"/>
<line x1="100.00" y1="540.14" x2="104.50" y2="540.14" stroke="#000" stroke-width="1.6"/>
<line x1="100.00" y1="611.80" x2="108.00" y2="611.80" stroke="#000" stroke-width="2"/>
<line x1="100.00" y1="664.29" x2="104.50" y2="664.29" stroke="#000" stroke-width="1.6"/>
<line x1="100.00" y1="651.07" x2="104.50" y2="651.07" stroke="#000" stroke-width="1.6"/>
<line x1="100.00" y1="641.69" x2="104.50" y2="641.69" stroke="#000" stroke-width="1.6"/>
<line x1="100.00" y1="634.41" x2="104.50" y2="634.41" stroke="#000" stroke-width="1.6"/>
<line x1="100.00" y1="628.46" x2="104.50" y2="628.46" stroke="#000" stroke-width="1.6"/>
<line x1="100.00" y1="623.43" x2="104.50" y2="623.43" stroke="#000" stroke-width="1.6"/>
<line x1="100.00" y1="619.08" x2="104.50" y2="619.08" stroke="#000" stroke-width="1.6"/>
<line x1="100.00" y1="615.24" x2="104.50" y2="615.24" stroke="#000" stroke-width="1.6"/>
<line x1="100.00" y1="686.90" x2="108.00" y2="686.90" stroke="#000" stroke-width="2"/>
<line x1="100.00" y1="739.39" x2="104.50" y2="739.39" stroke="#000" stroke-width="1.6"/>
<line x1="100.00" y1="726.17" x2="104.50" y2="726.17" stroke="#000" stroke-width="1.6"/>
<line x1="100.00" y1="716.79" x2="104.50" y2="716.79" stroke="#000" stroke-width="1.6"/>
<line x1="100.00" y1="709.51" x2="104.50" y2="709.51" stroke="#000" stroke-width="1.6"/>
<line x1="100.00" y1="703.56" x2="104.50" y2="703.56" stroke="#000" stroke-width="1.6"/>
<line x1="100.00" y1="698.53" x2="104.50" y2="698.53" stroke="#000" stroke-width="1.6"/>
<line x1="100.00" y1="694.18" x2="104.50" y2="694.18" stroke="#000" stroke-width="1.6"/>
<line x1="100.00" y1="690.34" x2="104.50" y2="690.34" stroke="#000" stroke-width="1.6"/>
<line x1="100.00" y1="762.00" x2="108.00" y2="762.00" stroke="#000" stroke-width="2"/>
<line x1="100.00" y1="801.27" x2="104.50" y2="801.27" stroke="#000" stroke-width="1.6"/>
<line x1="100.00" y1="791.89" x2="104.50" y2="791.89" stroke="#000" stroke-width="1.6"/>
<line x1="100.00" y1="784.61" x2="104.50" y2="784.61" stroke="#000" stroke-width="1.6"/>
<line x1="100.00" y1="778.66" x2="104.50" y2="778.66" stroke="#000" stroke-width="1.6"/>
<line x1="100.00" y1="773.63" x2="104.50" y2="773.63" stroke="#000" stroke-width="1.6"/>
<line x1="100.00" y1="769.28" x2="104.50" y2="769.28" stroke="#000" stroke-width="1.6"/>
<line x1="100.00" y1="765.44" x2="104.50" y2="765.44" stroke="#000" stroke-width="1.6"/>
<rect x="100" y="462.2" width="482.5" height="351.8" fill="none" stroke="#000" stroke-width="2.2"/>
<clipPath id="clipd"><rect x="604" y="462.2" width="482.70000000000005" height="351.8"/></clipPath>
<g clip-path="url(#clipd)">
<polygon points="613.7,695.7 623.3,697.1 633.0,698.5 642.6,699.8 652.3,701.0 661.9,702.3 671.6,703.4 681.2,704.5 690.9,705.6 700.5,706.6 710.2,707.5 719.8,708.4 729.5,709.2 739.2,710.0 748.8,710.8 758.5,711.5 768.1,712.2 777.8,712.9 787.4,713.6 797.1,714.3 806.7,714.9 816.4,715.6 826.0,716.2 835.7,716.7 845.4,717.2 855.0,717.7 864.7,718.1 874.3,718.5 884.0,718.9 893.6,719.3 903.3,719.7 912.9,720.1 922.6,720.4 932.2,720.8 941.9,721.1 951.5,721.4 961.2,721.7 970.9,722.0 980.5,722.3 990.2,722.5 999.8,722.8 1009.5,723.0 1019.1,723.3 1028.8,723.5 1038.4,723.7 1048.1,723.9 1057.7,724.1 1067.4,724.3 1077.0,724.4 1086.7,724.6 1086.7,800.7 1077.0,800.6 1067.4,800.5 1057.7,800.3 1048.1,800.1 1038.4,799.9 1028.8,799.7 1019.1,799.5 1009.5,799.3 999.8,799.0 990.2,798.7 980.5,798.4 970.9,798.1 961.2,797.7 951.5,797.3 941.9,796.9 932.2,796.4 922.6,795.9 912.9,795.5 903.3,795.0 893.6,794.6 884.0,794.1 874.3,793.7 864.7,793.3 855.0,792.8 845.4,792.3 835.7,791.8 826.0,791.2 816.4,790.6 806.7,790.0 797.1,789.4 787.4,788.7 777.8,788.1 768.1,787.4 758.5,786.7 748.8,786.0 739.2,785.3 729.5,784.6 719.8,783.8 710.2,783.0 700.5,782.2 690.9,781.3 681.2,780.4 671.6,779.4 661.9,778.5 652.3,777.4 642.6,776.4 633.0,775.3 623.3,774.1 613.7,773.0" fill="rgb(107,155,207)" fill-opacity="0.25"/>
<rect x="613.9" y="557.1" width="472.80000000000007" height="47.0" fill="rgb(131,131,131)" fill-opacity="0.59"/>
<polygon points="613.7,467.2 623.3,498.3 633.0,513.9 642.6,523.9 652.3,531.7 661.9,538.3 671.6,544.5 681.2,549.4 690.9,552.6 700.5,555.1 710.2,557.2 719.8,559.4 729.5,561.5 739.2,563.5 748.8,565.4 758.5,567.2 768.1,569.0 777.8,570.8 787.4,572.6 797.1,574.5 806.7,576.3 816.4,578.0 826.0,579.5 835.7,580.8 845.4,581.7 855.0,582.4 864.7,583.0 874.3,583.5 884.0,583.9 893.6,584.3 903.3,584.7 912.9,585.1 922.6,585.4 932.2,585.7 941.9,586.0 951.5,586.3 961.2,586.6 970.9,586.9 980.5,587.3 990.2,587.6 999.8,588.0 1009.5,588.4 1019.1,588.8 1028.8,589.2 1038.4,589.7 1048.1,590.1 1057.7,590.5 1067.4,590.9 1077.0,591.3 1086.7,591.7 1086.7,664.9 1077.0,664.3 1067.4,663.7 1057.7,663.1 1048.1,662.5 1038.4,661.9 1028.8,661.2 1019.1,660.6 1009.5,660.0 999.8,659.4 990.2,658.8 980.5,658.2 970.9,657.6 961.2,657.0 951.5,656.4 941.9,655.8 932.2,655.1 922.6,654.5 912.9,653.9 903.3,653.2 893.6,652.4 884.0,651.7 874.3,650.8 864.7,649.9 855.0,649.0 845.4,648.0 835.7,647.0 826.0,645.8 816.4,644.6 806.7,643.4 797.1,642.1 787.4,640.8 777.8,639.5 768.1,638.1 758.5,636.6 748.8,635.1 739.2,633.7 729.5,632.2 719.8,630.7 710.2,628.7 700.5,626.1 690.9,622.4 681.2,618.3 671.6,614.0 661.9,609.4 652.3,605.3 642.6,600.6 633.0,593.9 623.3,580.6 613.7,550.0" fill="rgb(119,187,107)" fill-opacity="0.25"/>
<polygon points="613.7,489.4 623.3,525.0 633.0,538.3 642.6,548.3 652.3,555.1 661.9,560.6 671.6,565.6 681.2,569.4 690.9,571.7 700.5,573.6 710.2,575.2 719.8,576.5 729.5,577.5 739.2,578.4 748.8,579.1 758.5,579.8 768.1,580.4 777.8,580.9 787.4,581.4 797.1,581.9 806.7,582.4 816.4,582.9 826.0,583.5 835.7,584.1 845.4,584.7 855.0,585.5 864.7,586.3 874.3,587.2 884.0,588.2 893.6,589.3 903.3,590.3 912.9,591.4 922.6,592.5 932.2,593.6 941.9,594.6 951.5,595.6 961.2,596.6 970.9,597.5 980.5,598.3 990.2,599.0 999.8,599.6 1009.5,600.2 1019.1,600.8 1028.8,601.4 1038.4,601.9 1048.1,602.4 1057.7,602.9 1067.4,603.4 1077.0,603.7 1086.7,604.1 1086.7,684.0 1077.0,683.6 1067.4,683.1 1057.7,682.7 1048.1,682.2 1038.4,681.8 1028.8,681.3 1019.1,680.8 1009.5,680.3 999.8,679.8 990.2,679.4 980.5,678.9 970.9,678.4 961.2,677.9 951.5,677.5 941.9,677.0 932.2,676.5 922.6,676.0 912.9,675.4 903.3,674.7 893.6,674.0 884.0,673.1 874.3,671.9 864.7,670.7 855.0,669.5 845.4,668.7 835.7,668.1 826.0,667.6 816.4,667.2 806.7,666.6 797.1,665.9 787.4,664.7 777.8,663.2 768.1,661.4 758.5,659.5 748.8,657.7 739.2,656.1 729.5,654.6 719.8,653.1 710.2,651.5 700.5,649.7 690.9,647.5 681.2,645.0 671.6,641.1 661.9,636.1 652.3,631.1 642.6,625.0 633.0,616.1 623.3,602.8 613.7,565.0" fill="rgb(242,132,98)" fill-opacity="0.3"/>
</g>
<line x1="700.54" y1="462.2" x2="700.54" y2="814.0" stroke="#b0b0b0" stroke-width="2"/>
<line x1="797.08" y1="462.2" x2="797.08" y2="814.0" stroke="#b0b0b0" stroke-width="2"/>
<line x1="893.62" y1="462.2" x2="893.62" y2="814.0" stroke="#b0b0b0" stroke-width="2"/>
<line x1="990.16" y1="462.2" x2="990.16" y2="814.0" stroke="#b0b0b0" stroke-width="2"/>
<line x1="604" y1="500.70" x2="1086.7" y2="500.70" stroke="#b0b0b0" stroke-width="2"/>
<line x1="604" y1="631.70" x2="1086.7" y2="631.70" stroke="#b0b0b0" stroke-width="2"/>
<line x1="604" y1="762.70" x2="1086.7" y2="762.70" stroke="#b0b0b0" stroke-width="2"/>
<rect x="701.7" y="467.3" width="296.29999999999995" height="33.0" fill="#fff" fill-opacity="0.62"/>
<g clip-path="url(#clipd)">
<polyline points="613.7,740.0 623.3,742.7 633.0,745.1 642.6,746.9 652.3,748.0 661.9,748.8 671.6,749.5 681.2,750.1 690.9,750.6 700.5,751.3 710.2,752.0 719.8,752.7 729.5,753.4 739.2,754.1 748.8,754.8 758.5,755.5 768.1,756.1 777.8,756.8 787.4,757.3 797.1,757.9 806.7,758.4 816.4,758.8 826.0,759.2 835.7,759.6 845.4,760.0 855.0,760.5 864.7,761.1 874.3,761.7 884.0,762.2 893.6,762.7 903.3,763.1 912.9,763.4 922.6,763.7 932.2,764.0 941.9,764.3 951.5,764.6 961.2,764.9 970.9,765.1 980.5,765.4 990.2,765.7 999.8,766.0 1009.5,766.3 1019.1,766.7 1028.8,767.0 1038.4,767.3 1048.1,767.6 1057.7,767.9 1067.4,768.2 1077.0,768.5 1086.7,768.8" fill="none" stroke="#5a9fd4" stroke-width="3.5" stroke-linejoin="round" stroke-linecap="butt"/>
</g>
<line x1="612" y1="575.5" x2="1089" y2="575.5" stroke="#000" stroke-width="3.6"/>
<g clip-path="url(#clipd)">
<polyline points="613.7,510.6 623.3,540.6 633.0,556.1 642.6,567.2 652.3,576.1 661.9,582.8 671.6,588.3 681.2,592.8 690.9,595.8 700.5,598.5 710.2,600.9 719.8,603.0 729.5,604.9 739.2,606.6 748.8,608.3 758.5,609.9 768.1,611.3 777.8,612.7 787.4,613.9 797.1,615.1 806.7,616.2 816.4,617.3 826.0,618.3 835.7,619.2 845.4,620.1 855.0,621.1 864.7,622.1 874.3,623.0 884.0,623.9 893.6,624.6 903.3,625.3 912.9,625.9 922.6,626.4 932.2,627.0 941.9,627.5 951.5,627.9 961.2,628.4 970.9,628.9 980.5,629.4 990.2,629.9 999.8,630.4 1009.5,630.9 1019.1,631.4 1028.8,631.9 1038.4,632.4 1048.1,632.9 1057.7,633.5 1067.4,634.0 1077.0,634.5 1086.7,635.0" fill="none" stroke="#e05555" stroke-width="3.5" stroke-linejoin="round" stroke-linecap="butt"/>
<polyline points="613.7,531.7 623.3,560.6 633.0,578.3 642.6,588.3 652.3,596.1 661.9,601.7 671.6,606.1 681.2,610.6 690.9,613.4 700.5,615.7 710.2,617.6 719.8,619.2 729.5,620.8 739.2,622.3 748.8,623.7 758.5,625.0 768.1,626.1 777.8,627.3 787.4,628.4 797.1,629.5 806.7,630.6 816.4,631.7 826.0,632.7 835.7,633.7 845.4,634.6 855.0,635.6 864.7,636.5 874.3,637.4 884.0,638.3 893.6,639.0 903.3,639.7 912.9,640.3 922.6,640.9 932.2,641.4 941.9,641.9 951.5,642.4 961.2,642.9 970.9,643.4 980.5,643.9 990.2,644.4 999.8,644.8 1009.5,645.3 1019.1,645.8 1028.8,646.3 1038.4,646.8 1048.1,647.2 1057.7,647.7 1067.4,648.1 1077.0,648.6 1086.7,649.0" fill="none" stroke="#5db06a" stroke-width="3.5" stroke-linejoin="round" stroke-linecap="butt"/>
</g>
<line x1="700.54" y1="814.00" x2="700.54" y2="806.00" stroke="#000" stroke-width="2"/>
<line x1="797.08" y1="814.00" x2="797.08" y2="806.00" stroke="#000" stroke-width="2"/>
<line x1="893.62" y1="814.00" x2="893.62" y2="806.00" stroke="#000" stroke-width="2"/>
<line x1="990.16" y1="814.00" x2="990.16" y2="806.00" stroke="#000" stroke-width="2"/>
<line x1="1086.70" y1="500.70" x2="1078.70" y2="500.70" stroke="#000" stroke-width="2"/>
<line x1="1086.70" y1="592.27" x2="1082.20" y2="592.27" stroke="#000" stroke-width="1.6"/>
<line x1="1086.70" y1="569.20" x2="1082.20" y2="569.20" stroke="#000" stroke-width="1.6"/>
<line x1="1086.70" y1="552.83" x2="1082.20" y2="552.83" stroke="#000" stroke-width="1.6"/>
<line x1="1086.70" y1="540.13" x2="1082.20" y2="540.13" stroke="#000" stroke-width="1.6"/>
<line x1="1086.70" y1="529.76" x2="1082.20" y2="529.76" stroke="#000" stroke-width="1.6"/>
<line x1="1086.70" y1="520.99" x2="1082.20" y2="520.99" stroke="#000" stroke-width="1.6"/>
<line x1="1086.70" y1="513.40" x2="1082.20" y2="513.40" stroke="#000" stroke-width="1.6"/>
<line x1="1086.70" y1="506.69" x2="1082.20" y2="506.69" stroke="#000" stroke-width="1.6"/>
<line x1="1086.70" y1="631.70" x2="1078.70" y2="631.70" stroke="#000" stroke-width="2"/>
<line x1="1086.70" y1="723.27" x2="1082.20" y2="723.27" stroke="#000" stroke-width="1.6"/>
<line x1="1086.70" y1="700.20" x2="1082.20" y2="700.20" stroke="#000" stroke-width="1.6"/>
<line x1="1086.70" y1="683.83" x2="1082.20" y2="683.83" stroke="#000" stroke-width="1.6"/>
<line x1="1086.70" y1="671.13" x2="1082.20" y2="671.13" stroke="#000" stroke-width="1.6"/>
<line x1="1086.70" y1="660.76" x2="1082.20" y2="660.76" stroke="#000" stroke-width="1.6"/>
<line x1="1086.70" y1="651.99" x2="1082.20" y2="651.99" stroke="#000" stroke-width="1.6"/>
<line x1="1086.70" y1="644.40" x2="1082.20" y2="644.40" stroke="#000" stroke-width="1.6"/>
<line x1="1086.70" y1="637.69" x2="1082.20" y2="637.69" stroke="#000" stroke-width="1.6"/>
<line x1="1086.70" y1="762.70" x2="1078.70" y2="762.70" stroke="#000" stroke-width="2"/>
<line x1="1086.70" y1="802.13" x2="1082.20" y2="802.13" stroke="#000" stroke-width="1.6"/>
<line x1="1086.70" y1="791.76" x2="1082.20" y2="791.76" stroke="#000" stroke-width="1.6"/>
<line x1="1086.70" y1="782.99" x2="1082.20" y2="782.99" stroke="#000" stroke-width="1.6"/>
<line x1="1086.70" y1="775.40" x2="1082.20" y2="775.40" stroke="#000" stroke-width="1.6"/>
<line x1="1086.70" y1="768.69" x2="1082.20" y2="768.69" stroke="#000" stroke-width="1.6"/>
<rect x="604" y="462.2" width="482.70000000000005" height="351.8" fill="none" stroke="#000" stroke-width="2.2"/>
<rect x="375" y="183" width="195" height="155" fill="#fff" fill-opacity="0.75"/>
<line x1="403" y1="202.2" x2="457.3" y2="202.2" stroke="#f0a040" stroke-width="3.5"/>
<line x1="403" y1="230.3" x2="457.3" y2="230.3" stroke="#5a9fd4" stroke-width="3.5"/>
<line x1="403" y1="261.3" x2="457.3" y2="261.3" stroke="#000" stroke-width="3.6"/>
<line x1="403" y1="289.2" x2="457.3" y2="289.2" stroke="#e05555" stroke-width="3.5"/>
<line x1="403" y1="317.3" x2="457.3" y2="317.3" stroke="#5db06a" stroke-width="3.5"/>
<text transform="translate(471.76,210.80) scale(0.9918,1)" font-size="24.42" stroke="#000" stroke-width="0.3" >INN</text>
<text transform="translate(472.05,239.80) scale(0.9612,1)" font-size="24.71" stroke="#000" stroke-width="0.3" >NA</text>
<text transform="translate(471.96,267.90) scale(1.0005,1)" font-size="23.98" stroke="#000" stroke-width="0.3" >Tandem</text>
<text transform="translate(472.91,295.60) scale(0.8448,1)" font-size="24.42" stroke="#000" stroke-width="0.3" >VAE</text>
<text transform="translate(472.39,325.00) scale(0.9315,1)" font-size="25.58" stroke="#000" stroke-width="0.3" >cINN</text>
<text transform="translate(234.71,32.60) scale(0.9318,1)" font-size="38.23" stroke="#000" stroke-width="0.3" >Inferences (T)</text>
<text transform="translate(740.41,32.60) scale(0.9322,1)" font-size="38.23" stroke="#000" stroke-width="0.3" >Inferences (T)</text>
<text transform="translate(234.71,888.60) scale(0.9353,1)" font-size="38.08" stroke="#000" stroke-width="0.3" >Inferences (T)</text>
<text transform="translate(740.41,888.60) scale(0.9358,1)" font-size="38.08" stroke="#000" stroke-width="0.3" >Inferences (T)</text>
<text transform="translate(90.02,73.08) scale(1.0154,1)" font-size="32.34" stroke="#000" stroke-width="0.3" >0</text>
<text transform="translate(90.02,846.99) scale(1.0335,1)" font-size="31.78" stroke="#000" stroke-width="0.3" >0</text>
<path d="M186.44,73.30 L189.27,73.30 L189.27,50.80 L186.85,50.80 L181.60,53.52 L182.71,56.15 L186.44,54.13 Z" fill="#000"/>
<text transform="translate(196.61,73.87) scale(0.9425,1)" font-size="34.04" stroke="#000" stroke-width="0.3" >0</text>
<path d="M186.36,847.20 L189.13,847.20 L189.13,825.10 L186.75,825.10 L181.60,827.78 L182.69,830.35 L186.36,828.37 Z" fill="#000"/>
<text transform="translate(196.91,847.77) scale(0.9414,1)" font-size="33.47" stroke="#000" stroke-width="0.3" >0</text>
<text transform="translate(274.95,73.08) scale(1.0155,1)" font-size="32.34" stroke="#000" stroke-width="0.3" >20</text>
<text transform="translate(274.95,846.99) scale(1.0336,1)" font-size="31.78" stroke="#000" stroke-width="0.3" >20</text>
<text transform="translate(372.70,73.08) scale(0.9767,1)" font-size="32.34" stroke="#000" stroke-width="0.3" >30</text>
<text transform="translate(372.70,846.99) scale(0.9940,1)" font-size="31.78" stroke="#000" stroke-width="0.3" >30</text>
<text transform="translate(469.26,73.08) scale(0.9979,1)" font-size="32.34" stroke="#000" stroke-width="0.3" >40</text>
<text transform="translate(469.26,846.99) scale(1.0157,1)" font-size="31.78" stroke="#000" stroke-width="0.3" >40</text>
<text transform="translate(557.19,73.08) scale(1.0114,1)" font-size="32.34" stroke="#000" stroke-width="0.3" >50</text>
<text transform="translate(557.19,846.99) scale(1.0294,1)" font-size="31.78" stroke="#000" stroke-width="0.3" >50</text>
<text transform="translate(606.68,73.08) scale(1.0478,1)" font-size="32.34" stroke="#000" stroke-width="0.3" >0</text>
<text transform="translate(606.68,846.99) scale(1.0664,1)" font-size="31.78" stroke="#000" stroke-width="0.3" >0</text>
<path d="M692.04,73.30 L694.87,73.30 L694.87,50.80 L692.45,50.80 L687.20,53.52 L688.31,56.15 L692.04,54.13 Z" fill="#000"/>
<text transform="translate(703.11,73.87) scale(0.9425,1)" font-size="34.04" stroke="#000" stroke-width="0.3" >0</text>
<path d="M691.96,847.20 L694.73,847.20 L694.73,825.10 L692.35,825.10 L687.20,827.78 L688.29,830.35 L691.96,828.37 Z" fill="#000"/>
<text transform="translate(703.41,847.77) scale(0.9414,1)" font-size="33.47" stroke="#000" stroke-width="0.3" >0</text>
<text transform="translate(780.73,73.08) scale(1.0276,1)" font-size="32.34" stroke="#000" stroke-width="0.3" >20</text>
<text transform="translate(780.73,846.99) scale(1.0459,1)" font-size="31.78" stroke="#000" stroke-width="0.3" >20</text>
<text transform="translate(878.25,73.08) scale(1.0125,1)" font-size="32.34" stroke="#000" stroke-width="0.3" >30</text>
<text transform="translate(878.25,846.99) scale(1.0305,1)" font-size="31.78" stroke="#000" stroke-width="0.3" >30</text>
<text transform="translate(974.86,73.08) scale(0.9979,1)" font-size="32.34" stroke="#000" stroke-width="0.3" >40</text>
<text transform="translate(974.86,846.99) scale(1.0157,1)" font-size="31.78" stroke="#000" stroke-width="0.3" >40</text>
<text transform="translate(1071.63,73.08) scale(0.9785,1)" font-size="32.34" stroke="#000" stroke-width="0.3" >50</text>
<text transform="translate(1071.63,846.99) scale(0.9959,1)" font-size="31.78" stroke="#000" stroke-width="0.3" >50</text>
<text transform="translate(250.22,124.60) scale(0.9117,1)" font-size="38.52" stroke="#000" stroke-width="0.3" >D</text>
<path d="M285.60,124.60 L288.86,124.60 L288.86,98.60 L286.06,98.60 L280.00,101.75 L281.28,104.78 L285.60,102.45 Z" fill="#000"/>
<text transform="translate(294.26,124.60) scale(1.2469,1)" font-size="33.69" stroke="#000" stroke-width="0.3" >:</text>
<text transform="translate(312.01,124.60) scale(0.9162,1)" font-size="38.52" stroke="#000" stroke-width="0.3" >Ballistics</text>
<text transform="translate(518.43,129.58) scale(0.9853,1)" font-size="33.92" stroke="#000" stroke-width="0.3" >(a)</text>
<text transform="translate(732.61,124.60) scale(0.8829,1)" font-size="38.52" stroke="#000" stroke-width="0.3" >D2: Sine Wave</text>
<text transform="translate(1020.79,129.58) scale(1.0524,1)" font-size="33.92" stroke="#000" stroke-width="0.3" >(b)</text>
<text transform="translate(219.13,495.60) scale(0.9413,1)" font-size="38.52" stroke="#000" stroke-width="0.3" >D3: Robotic Arm</text>
<text transform="translate(518.43,492.72) scale(0.9881,1)" font-size="33.70" stroke="#000" stroke-width="0.3" >(c)</text>
<text transform="translate(703.03,495.60) scale(0.9405,1)" font-size="38.52" stroke="#000" stroke-width="0.3" >D4: Meta-Material</text>
<text transform="translate(1020.79,492.72) scale(1.0591,1)" font-size="33.70" stroke="#000" stroke-width="0.3" >(d)</text>
<path d="M48.02,102.90 L50.83,102.90 L50.83,80.50 L48.42,80.50 L43.20,83.21 L44.30,85.82 L48.02,83.81 Z" fill="#000"/>
<text transform="translate(57.48,103.47) scale(0.9422,1)" font-size="33.90" stroke="#000" stroke-width="0.3" >0</text>
<text transform="translate(74.85,91.54) scale(1.0400,1)" font-size="20.48" stroke="#000" stroke-width="0.3" >-</text>
<path d="M86.66,91.90 L88.26,91.90 L88.26,79.10 L86.88,79.10 L83.90,80.65 L84.53,82.14 L86.66,80.99 Z" fill="#000"/>
<path d="M48.13,171.00 L51.00,171.00 L51.00,148.10 L48.54,148.10 L43.20,150.87 L44.33,153.54 L48.13,151.49 Z" fill="#000"/>
<text transform="translate(57.12,171.56) scale(0.9436,1)" font-size="34.60" stroke="#000" stroke-width="0.3" >0</text>
<text transform="translate(74.96,158.50) scale(1.0209,1)" font-size="18.62" stroke="#000" stroke-width="0.3" >-2</text>
<path d="M48.00,247.30 L50.80,247.30 L50.80,225.00 L48.40,225.00 L43.20,227.70 L44.30,230.30 L48.00,228.30 Z" fill="#000"/>
<text transform="translate(57.56,247.87) scale(0.9420,1)" font-size="33.76" stroke="#000" stroke-width="0.3" >0</text>
<text transform="translate(75.00,236.32) scale(0.9862,1)" font-size="18.36" stroke="#000" stroke-width="0.3" >-3</text>
<path d="M48.00,318.90 L50.80,318.90 L50.80,296.60 L48.40,296.60 L43.20,299.30 L44.30,301.90 L48.00,299.90 Z" fill="#000"/>
<text transform="translate(57.56,319.47) scale(0.9420,1)" font-size="33.76" stroke="#000" stroke-width="0.3" >0</text>
<text transform="translate(74.98,306.40) scale(0.9800,1)" font-size="18.90" stroke="#000" stroke-width="0.3" >-4</text>
<path d="M48.00,403.40 L50.80,403.40 L50.80,381.10 L48.40,381.10 L43.20,383.80 L44.30,386.40 L48.00,384.40 Z" fill="#000"/>
<text transform="translate(57.56,403.97) scale(0.9420,1)" font-size="33.76" stroke="#000" stroke-width="0.3" >0</text>
<text transform="translate(75.01,391.92) scale(0.9495,1)" font-size="18.63" stroke="#000" stroke-width="0.3" >-5</text>
<path d="M47.69,473.70 L50.43,473.70 L50.43,451.90 L48.08,451.90 L43.00,454.54 L44.08,457.08 L47.69,455.13 Z" fill="#000"/>
<text transform="translate(57.93,474.28) scale(0.9405,1)" font-size="33.05" stroke="#000" stroke-width="0.3" >0</text>
<text transform="translate(74.65,462.44) scale(1.0400,1)" font-size="20.48" stroke="#000" stroke-width="0.3" >-</text>
<path d="M86.46,462.80 L88.06,462.80 L88.06,450.00 L86.68,450.00 L83.70,451.55 L84.33,453.04 L86.46,451.89 Z" fill="#000"/>
<path d="M47.69,548.60 L50.43,548.60 L50.43,526.80 L48.08,526.80 L43.00,529.44 L44.08,531.98 L47.69,530.03 Z" fill="#000"/>
<text transform="translate(57.93,549.18) scale(0.9405,1)" font-size="33.05" stroke="#000" stroke-width="0.3" >0</text>
<text transform="translate(74.76,537.70) scale(1.0209,1)" font-size="18.62" stroke="#000" stroke-width="0.3" >-2</text>
<path d="M47.69,622.50 L50.43,622.50 L50.43,600.70 L48.08,600.70 L43.00,603.34 L44.08,605.88 L47.69,603.93 Z" fill="#000"/>
<text transform="translate(57.93,623.08) scale(0.9405,1)" font-size="33.05" stroke="#000" stroke-width="0.3" >0</text>
<text transform="translate(74.80,611.42) scale(0.9862,1)" font-size="18.36" stroke="#000" stroke-width="0.3" >-3</text>
<path d="M47.76,701.60 L50.53,701.60 L50.53,679.50 L48.15,679.50 L43.00,682.18 L44.09,684.75 L47.76,682.77 Z" fill="#000"/>
<text transform="translate(57.71,702.17) scale(0.9414,1)" font-size="33.47" stroke="#000" stroke-width="0.3" >0</text>
<text transform="translate(74.78,690.40) scale(0.9800,1)" font-size="18.90" stroke="#000" stroke-width="0.3" >-4</text>
<path d="M47.63,775.80 L50.33,775.80 L50.33,754.30 L48.01,754.30 L43.00,756.90 L44.06,759.41 L47.63,757.48 Z" fill="#000"/>
<text transform="translate(58.15,776.38) scale(0.9396,1)" font-size="32.63" stroke="#000" stroke-width="0.3" >0</text>
<text transform="translate(74.81,765.02) scale(0.9495,1)" font-size="18.63" stroke="#000" stroke-width="0.3" >-5</text>
<path d="M1105.71,121.00 L1108.46,121.00 L1108.46,99.10 L1106.11,99.10 L1101.00,101.75 L1102.08,104.30 L1105.71,102.34 Z" fill="#000"/>
<text transform="translate(1115.85,121.58) scale(0.9408,1)" font-size="33.19" stroke="#000" stroke-width="0.3" >0</text>
<text transform="translate(1133.30,110.72) scale(0.9798,1)" font-size="18.36" stroke="#000" stroke-width="0.3" >0</text>
<path d="M1105.74,176.90 L1108.50,176.90 L1108.50,154.90 L1106.13,154.90 L1101.00,157.56 L1102.09,160.13 L1105.74,158.16 Z" fill="#000"/>
<text transform="translate(1115.78,177.47) scale(0.9411,1)" font-size="33.33" stroke="#000" stroke-width="0.3" >0</text>
<text transform="translate(1133.05,165.24) scale(1.0400,1)" font-size="20.48" stroke="#000" stroke-width="0.3" >-</text>
<path d="M1144.86,165.60 L1146.46,165.60 L1146.46,152.80 L1145.08,152.80 L1142.10,154.35 L1142.73,155.84 L1144.86,154.69 Z" fill="#000"/>
<path d="M1105.71,229.30 L1108.46,229.30 L1108.46,207.40 L1106.11,207.40 L1101.00,210.05 L1102.08,212.60 L1105.71,210.64 Z" fill="#000"/>
<text transform="translate(1115.85,229.88) scale(0.9408,1)" font-size="33.19" stroke="#000" stroke-width="0.3" >0</text>
<text transform="translate(1133.16,218.30) scale(1.0209,1)" font-size="18.62" stroke="#000" stroke-width="0.3" >-2</text>
<path d="M1105.74,287.60 L1108.50,287.60 L1108.50,265.60 L1106.13,265.60 L1101.00,268.26 L1102.09,270.83 L1105.74,268.86 Z" fill="#000"/>
<text transform="translate(1115.78,288.17) scale(0.9411,1)" font-size="33.33" stroke="#000" stroke-width="0.3" >0</text>
<text transform="translate(1133.20,276.32) scale(0.9862,1)" font-size="18.36" stroke="#000" stroke-width="0.3" >-3</text>
<path d="M1105.74,345.20 L1108.50,345.20 L1108.50,323.20 L1106.13,323.20 L1101.00,325.86 L1102.09,328.43 L1105.74,326.46 Z" fill="#000"/>
<text transform="translate(1115.78,345.77) scale(0.9411,1)" font-size="33.33" stroke="#000" stroke-width="0.3" >0</text>
<text transform="translate(1133.18,334.10) scale(0.9800,1)" font-size="18.90" stroke="#000" stroke-width="0.3" >-4</text>
<path d="M1105.74,394.20 L1108.50,394.20 L1108.50,372.20 L1106.13,372.20 L1101.00,374.86 L1102.09,377.43 L1105.74,375.46 Z" fill="#000"/>
<text transform="translate(1115.78,394.77) scale(0.9411,1)" font-size="33.33" stroke="#000" stroke-width="0.3" >0</text>
<text transform="translate(1133.21,382.92) scale(0.9495,1)" font-size="18.63" stroke="#000" stroke-width="0.3" >-5</text>
<path d="M1105.52,512.80 L1108.16,512.80 L1108.16,491.80 L1105.90,491.80 L1101.00,494.34 L1102.04,496.79 L1105.52,494.91 Z" fill="#000"/>
<text transform="translate(1116.52,513.39) scale(0.9381,1)" font-size="31.92" stroke="#000" stroke-width="0.3" >0</text>
<text transform="translate(1133.16,502.60) scale(1.0209,1)" font-size="18.62" stroke="#000" stroke-width="0.3" >-2</text>
<path d="M1105.71,644.90 L1108.46,644.90 L1108.46,623.00 L1106.11,623.00 L1101.00,625.65 L1102.08,628.20 L1105.71,626.24 Z" fill="#000"/>
<text transform="translate(1115.85,645.48) scale(0.9408,1)" font-size="33.19" stroke="#000" stroke-width="0.3" >0</text>
<text transform="translate(1133.20,633.72) scale(0.9862,1)" font-size="18.36" stroke="#000" stroke-width="0.3" >-3</text>
<path d="M1105.78,777.80 L1108.57,777.80 L1108.57,755.60 L1106.18,755.60 L1101.00,758.29 L1102.10,760.88 L1105.78,758.89 Z" fill="#000"/>
<text transform="translate(1115.63,778.37) scale(0.9417,1)" font-size="33.62" stroke="#000" stroke-width="0.3" >0</text>
<text transform="translate(1133.18,766.00) scale(0.9800,1)" font-size="18.90" stroke="#000" stroke-width="0.3" >-4</text>
<path d="M4.90,250.70 L8.90,250.70 L10.40,243.50 C11.20,239.80 13.20,236.60 17.00,235.60 L17.40,232.30 C14.40,232.20 12.20,234.00 11.00,236.60 L11.70,232.40 L8.20,232.40 Z" fill="#000"/>
<polyline points="7,229 11.4,224.2 16,229" fill="none" stroke="#000" stroke-width="1.2"/>
<text transform="translate(15.52,264.00) scale(0.9734,1)" font-size="21.80" stroke="#000" stroke-width="0.3" >T</text>
<path d="M1162.90,250.70 L1166.90,250.70 L1168.40,243.50 C1169.20,239.80 1171.20,236.60 1175.00,235.60 L1175.40,232.30 C1172.40,232.20 1170.20,234.00 1169.00,236.60 L1169.70,232.40 L1166.20,232.40 Z" fill="#000"/>
<polyline points="1165,229 1169.4,224.2 1174,229" fill="none" stroke="#000" stroke-width="1.2"/>
<text transform="translate(1173.52,264.00) scale(0.9734,1)" font-size="21.80" stroke="#000" stroke-width="0.3" >T</text>
<path d="M4.90,628.70 L8.90,628.70 L10.40,621.50 C11.20,617.80 13.20,614.60 17.00,613.60 L17.40,610.30 C14.40,610.20 12.20,612.00 11.00,614.60 L11.70,610.40 L8.20,610.40 Z" fill="#000"/>
<polyline points="7,607 11.4,602.2 16,607" fill="none" stroke="#000" stroke-width="1.2"/>
<text transform="translate(15.52,642.00) scale(0.9734,1)" font-size="21.80" stroke="#000" stroke-width="0.3" >T</text>
<path d="M1162.90,628.70 L1166.90,628.70 L1168.40,621.50 C1169.20,617.80 1171.20,614.60 1175.00,613.60 L1175.40,610.30 C1172.40,610.20 1170.20,612.00 1169.00,614.60 L1169.70,610.40 L1166.20,610.40 Z" fill="#000"/>
<polyline points="1165,607 1169.4,602.2 1174,607" fill="none" stroke="#000" stroke-width="1.2"/>
<text transform="translate(1173.52,642.00) scale(0.9734,1)" font-size="21.80" stroke="#000" stroke-width="0.3" >T</text></svg></body></html>
